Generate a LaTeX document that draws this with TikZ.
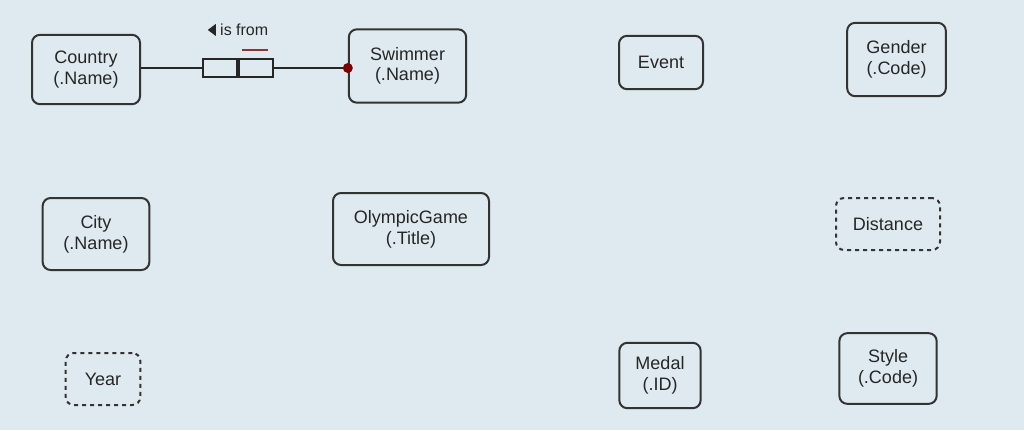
\documentclass[tikz,border=0pt]{standalone}
\usepackage{fontspec}
\setmainfont{Liberation Sans}
\begin{document}
\begin{tikzpicture}[x=0.75pt,y=-0.75pt,
  ent/.style={draw=black!80,line width=1.5pt,rounded corners=6pt,align=center,inner sep=0pt,font=\fontsize{13.5}{15.5}\selectfont,text=black!85},
  val/.style={ent,dashed},
  ln/.style={draw=black!85,line width=1.3pt}]
\fill[fill={rgb,255:red,222;green,234;blue,240}] (0,0) rectangle (1024,430);
\useasboundingbox (0,0) rectangle (1024,430);
\node[ent,minimum width=81pt,minimum height=52pt] (country) at (86,69.5) {Country\\(.Name)};
\node[ent,minimum width=88pt,minimum height=55pt] (swimmer) at (407.5,66) {Swimmer\\(.Name)};
\node[ent,minimum width=63pt,minimum height=40pt] (event) at (661,62.5) {Event};
\node[ent,minimum width=74pt,minimum height=55pt] (gender) at (896.5,59.5) {Gender\\(.Code)};
\node[ent,minimum width=80pt,minimum height=54pt] (city) at (96,234) {City\\(.Name)};
\node[ent,minimum width=117pt,minimum height=54pt] (olympic) at (411,229) {OlympicGame\\(.Title)};
\node[val,minimum width=78pt,minimum height=39pt] (distance) at (888,224) {Distance};
\node[val,minimum width=56pt,minimum height=39pt] (year) at (103,379) {Year};
\node[ent,minimum width=61pt,minimum height=49pt] (medal) at (660,375.5) {Medal\\(.ID)};
\node[ent,minimum width=73pt,minimum height=53pt] (style) at (888,368.5) {Style\\(.Code)};
% fact type
\node[draw=black!85,line width=1.3pt,minimum width=25.5pt,minimum height=13.5pt,inner sep=0pt] (r1) at (220,68) {};
\node[draw=black!85,line width=1.3pt,minimum width=25.5pt,minimum height=13.5pt,inner sep=0pt,anchor=west] (r2) at (r1.east) {};
\draw[ln] (country.east |- r1.west) -- (r1.west);
\draw[ln] (r2.east) -- (swimmer.west |- r2.east);
\fill[red!50!black] (swimmer.west |- r2.east) circle (5);
\coordinate (u1) at (242,50); \coordinate (u2) at (268,50);
\draw[red!45!black!80,line width=1.6pt] (u1) -- (u2);
\node[font=\fontsize{12}{14}\selectfont,text=black!85] (lbl) at (238,30) {\tikz[x=0.75pt,y=-0.75pt]\fill[black!85](0,0)--(8,-6)--(8,6)--cycle;\ is from};
\end{tikzpicture}
\end{document}
